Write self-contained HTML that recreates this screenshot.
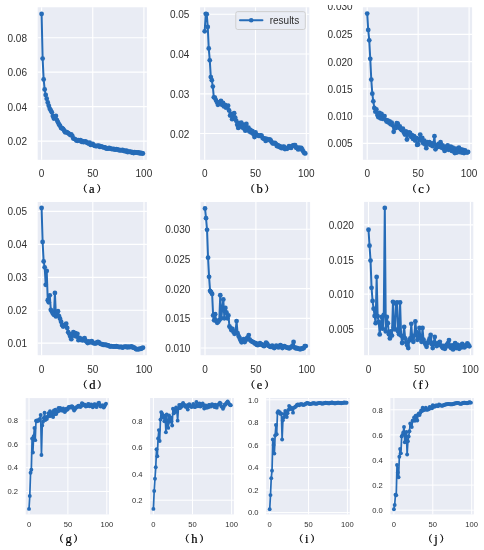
<!DOCTYPE html>
<html lang="en">
<head>
<meta charset="utf-8">
<title>results</title>
<style>
html,body{margin:0;padding:0;background:#ffffff;}
body{width:484px;height:550px;overflow:hidden;}
svg{display:block;}
.tk{font-family:"Liberation Sans",sans-serif;fill:#2e2e2e;}
.cap{fill:#000;stroke:#000;stroke-width:0.22px;}
.pr{font-family:"Noto Serif CJK SC",serif;font-size:9.5px;font-weight:bold;}
.lt{font-family:"Liberation Serif",serif;font-size:12.5px;}
</style>
</head>
<body>
<svg width="484" height="550" viewBox="0 0 484 550">
<rect width="484" height="550" fill="#ffffff"/>
<g>
<rect x="37.7" y="7.3" width="109.2" height="152.5" fill="#e9ecf4"/>
<path d="M41.6 7.3V159.8M92.75 7.3V159.8M143.9 7.3V159.8M37.7 37.7H146.9M37.7 72.1H146.9M37.7 106.6H146.9M37.7 141.1H146.9" stroke="#ffffff" stroke-width="1.15" fill="none"/>
<polyline points="41.6,13.92 42.62,58.55 43.65,79.4 44.67,89.4 45.69,94.91 46.72,98.71 47.74,102.5 48.76,105.77 49.78,108.7 50.81,110.42 51.83,112.32 52.85,116.11 53.88,118.52 54.9,116.97 55.92,115.94 56.95,120.08 57.97,122.14 58.99,124.5 60.01,125.76 61.04,127.99 62.06,128.18 63.08,128.88 64.11,130.42 65.13,132.33 66.15,131.97 67.18,132.48 68.2,133.17 69.22,133.91 70.24,135.08 71.27,134.38 72.29,135.85 73.31,138.43 74.34,138.86 75.36,139.35 76.38,140.48 77.41,140.77 78.43,140.24 79.45,140.66 80.47,140.07 81.5,141.79 82.52,141.27 83.54,142.18 84.57,141.7 85.59,141.41 86.61,142.5 87.64,143 88.66,143.54 89.68,142.77 90.7,144.89 91.73,144.37 92.75,143.97 93.77,145.28 94.8,145.8 95.82,146.1 96.84,146.01 97.87,145.93 98.89,145.6 99.91,146.94 100.93,146.47 101.96,146.61 102.98,147.29 104,147.3 105.03,147.42 106.05,148.44 107.07,148.64 108.09,148.59 109.12,148.01 110.14,148.51 111.16,148.8 112.19,149.15 113.21,148.89 114.23,149.27 115.26,149.69 116.28,149.08 117.3,149.72 118.33,149.58 119.35,150.45 120.37,150.12 121.39,150.37 122.42,150.02 123.44,150.75 124.46,150.58 125.49,151.41 126.51,150.57 127.53,151.99 128.56,151.73 129.58,151.78 130.6,151.56 131.62,152.56 132.65,152.23 133.67,153 134.69,152.27 135.72,152.65 136.74,152.41 137.76,152.79 138.79,152.51 139.81,153.39 140.83,153 141.85,153.26 142.88,153.51" fill="none" stroke="#266cb8" stroke-width="2.0" stroke-linejoin="round" stroke-linecap="round"/>
<g fill="#266cb8"><circle cx="41.6" cy="13.92" r="2.4"/><circle cx="42.62" cy="58.55" r="2.4"/><circle cx="43.65" cy="79.4" r="2.4"/><circle cx="44.67" cy="89.4" r="2.4"/><circle cx="45.69" cy="94.91" r="2.4"/><circle cx="46.72" cy="98.71" r="2.4"/><circle cx="47.74" cy="102.5" r="2.4"/><circle cx="48.76" cy="105.77" r="2.4"/><circle cx="49.78" cy="108.7" r="2.4"/><circle cx="50.81" cy="110.42" r="2.4"/><circle cx="51.83" cy="112.32" r="2.4"/><circle cx="52.85" cy="116.11" r="2.4"/><circle cx="53.88" cy="118.52" r="2.4"/><circle cx="54.9" cy="116.97" r="2.4"/><circle cx="55.92" cy="115.94" r="2.4"/><circle cx="56.95" cy="120.08" r="2.4"/><circle cx="57.97" cy="122.14" r="2.4"/><circle cx="58.99" cy="124.5" r="2.4"/><circle cx="60.01" cy="125.76" r="2.4"/><circle cx="61.04" cy="127.99" r="2.4"/><circle cx="62.06" cy="128.18" r="2.4"/><circle cx="63.08" cy="128.88" r="2.4"/><circle cx="64.11" cy="130.42" r="2.4"/><circle cx="65.13" cy="132.33" r="2.4"/><circle cx="66.15" cy="131.97" r="2.4"/><circle cx="67.18" cy="132.48" r="2.4"/><circle cx="68.2" cy="133.17" r="2.4"/><circle cx="69.22" cy="133.91" r="2.4"/><circle cx="70.24" cy="135.08" r="2.4"/><circle cx="71.27" cy="134.38" r="2.4"/><circle cx="72.29" cy="135.85" r="2.4"/><circle cx="73.31" cy="138.43" r="2.4"/><circle cx="74.34" cy="138.86" r="2.4"/><circle cx="75.36" cy="139.35" r="2.4"/><circle cx="76.38" cy="140.48" r="2.4"/><circle cx="77.41" cy="140.77" r="2.4"/><circle cx="78.43" cy="140.24" r="2.4"/><circle cx="79.45" cy="140.66" r="2.4"/><circle cx="80.47" cy="140.07" r="2.4"/><circle cx="81.5" cy="141.79" r="2.4"/><circle cx="82.52" cy="141.27" r="2.4"/><circle cx="83.54" cy="142.18" r="2.4"/><circle cx="84.57" cy="141.7" r="2.4"/><circle cx="85.59" cy="141.41" r="2.4"/><circle cx="86.61" cy="142.5" r="2.4"/><circle cx="87.64" cy="143" r="2.4"/><circle cx="88.66" cy="143.54" r="2.4"/><circle cx="89.68" cy="142.77" r="2.4"/><circle cx="90.7" cy="144.89" r="2.4"/><circle cx="91.73" cy="144.37" r="2.4"/><circle cx="92.75" cy="143.97" r="2.4"/><circle cx="93.77" cy="145.28" r="2.4"/><circle cx="94.8" cy="145.8" r="2.4"/><circle cx="95.82" cy="146.1" r="2.4"/><circle cx="96.84" cy="146.01" r="2.4"/><circle cx="97.87" cy="145.93" r="2.4"/><circle cx="98.89" cy="145.6" r="2.4"/><circle cx="99.91" cy="146.94" r="2.4"/><circle cx="100.93" cy="146.47" r="2.4"/><circle cx="101.96" cy="146.61" r="2.4"/><circle cx="102.98" cy="147.29" r="2.4"/><circle cx="104" cy="147.3" r="2.4"/><circle cx="105.03" cy="147.42" r="2.4"/><circle cx="106.05" cy="148.44" r="2.4"/><circle cx="107.07" cy="148.64" r="2.4"/><circle cx="108.09" cy="148.59" r="2.4"/><circle cx="109.12" cy="148.01" r="2.4"/><circle cx="110.14" cy="148.51" r="2.4"/><circle cx="111.16" cy="148.8" r="2.4"/><circle cx="112.19" cy="149.15" r="2.4"/><circle cx="113.21" cy="148.89" r="2.4"/><circle cx="114.23" cy="149.27" r="2.4"/><circle cx="115.26" cy="149.69" r="2.4"/><circle cx="116.28" cy="149.08" r="2.4"/><circle cx="117.3" cy="149.72" r="2.4"/><circle cx="118.33" cy="149.58" r="2.4"/><circle cx="119.35" cy="150.45" r="2.4"/><circle cx="120.37" cy="150.12" r="2.4"/><circle cx="121.39" cy="150.37" r="2.4"/><circle cx="122.42" cy="150.02" r="2.4"/><circle cx="123.44" cy="150.75" r="2.4"/><circle cx="124.46" cy="150.58" r="2.4"/><circle cx="125.49" cy="151.41" r="2.4"/><circle cx="126.51" cy="150.57" r="2.4"/><circle cx="127.53" cy="151.99" r="2.4"/><circle cx="128.56" cy="151.73" r="2.4"/><circle cx="129.58" cy="151.78" r="2.4"/><circle cx="130.6" cy="151.56" r="2.4"/><circle cx="131.62" cy="152.56" r="2.4"/><circle cx="132.65" cy="152.23" r="2.4"/><circle cx="133.67" cy="153" r="2.4"/><circle cx="134.69" cy="152.27" r="2.4"/><circle cx="135.72" cy="152.65" r="2.4"/><circle cx="136.74" cy="152.41" r="2.4"/><circle cx="137.76" cy="152.79" r="2.4"/><circle cx="138.79" cy="152.51" r="2.4"/><circle cx="139.81" cy="153.39" r="2.4"/><circle cx="140.83" cy="153" r="2.4"/><circle cx="141.85" cy="153.26" r="2.4"/><circle cx="142.88" cy="153.51" r="2.4"/></g>
<g class="tk" font-size="10">
<text x="27" y="41.88" text-anchor="end">0.08</text>
<text x="27" y="76.28" text-anchor="end">0.06</text>
<text x="27" y="110.78" text-anchor="end">0.04</text>
<text x="27" y="145.28" text-anchor="end">0.02</text>
<text x="41.6" y="176.88" text-anchor="middle">0</text>
<text x="92.75" y="176.88" text-anchor="middle">50</text>
<text x="143.9" y="176.88" text-anchor="middle">100</text>
</g>
<text class="cap" x="92" y="192.6" text-anchor="middle"><tspan class="pr" dy="-0.3">（</tspan><tspan class="lt" dx="1.8" dy="0.3">a</tspan><tspan class="pr" dx="2" dy="-0.3">）</tspan></text>
</g>
<g>
<rect x="200.1" y="7.3" width="109.2" height="152.5" fill="#e9ecf4"/>
<path d="M204.7 7.3V159.8M255.5 7.3V159.8M306.3 7.3V159.8M200.1 14.2H309.3M200.1 54H309.3M200.1 93.8H309.3M200.1 133.5H309.3" stroke="#ffffff" stroke-width="1.15" fill="none"/>
<polyline points="204.7,31.3 205.72,13.8 206.73,14.2 207.75,26.93 208.76,48.4 209.78,60.33 210.8,77.03 211.81,80.21 212.83,86.58 213.84,97.31 214.86,97.71 215.88,100.1 216.89,102.08 217.91,104.87 218.92,102.48 219.94,103.68 220.96,100.89 221.97,104.87 222.99,102.88 224,106.46 225.02,104.87 226.04,107.65 227.05,106.46 228.07,105.66 229.08,110.44 230.1,115.61 231.12,114.01 232.13,119.18 233.15,116.4 234.16,113.22 235.18,117.59 236.2,120.77 237.21,124.75 238.23,127.93 239.24,123.16 240.26,126.34 241.28,122.76 242.29,127.53 243.31,124.75 244.32,128.73 245.34,130.72 246.36,123.96 247.37,129.92 248.39,127.53 249.4,131.51 250.42,129.92 251.44,132.7 252.45,131.11 253.47,134.3 254.48,137.08 255.5,132.31 256.52,135.09 257.53,135.05 258.55,135.79 259.56,135.89 260.58,135.28 261.6,135.59 262.61,138.07 263.63,138.67 264.64,138.36 265.66,140.89 266.68,138.82 267.69,139.86 268.71,139.93 269.72,139.28 270.74,140.5 271.76,142.25 272.77,143.4 273.79,143.44 274.8,142.85 275.82,143.84 276.84,146.07 277.85,145.16 278.87,146.75 279.88,146.23 280.9,147.76 281.92,148.22 282.93,147.02 283.95,146.54 284.96,149.02 285.98,148.21 287,148.74 288.01,147.97 289.03,146.1 290.04,147.02 291.06,147.92 292.08,146.2 293.09,145.36 294.11,145.03 295.12,145.15 296.14,147.82 297.16,147.58 298.17,149.41 299.19,147.71 300.2,149.06 301.22,147.82 302.24,149.41 303.25,151.39 304.27,152.99 305.28,153.38" fill="none" stroke="#266cb8" stroke-width="2.0" stroke-linejoin="round" stroke-linecap="round"/>
<g fill="#266cb8"><circle cx="204.7" cy="31.3" r="2.4"/><circle cx="205.72" cy="13.8" r="2.4"/><circle cx="206.73" cy="14.2" r="2.4"/><circle cx="207.75" cy="26.93" r="2.4"/><circle cx="208.76" cy="48.4" r="2.4"/><circle cx="209.78" cy="60.33" r="2.4"/><circle cx="210.8" cy="77.03" r="2.4"/><circle cx="211.81" cy="80.21" r="2.4"/><circle cx="212.83" cy="86.58" r="2.4"/><circle cx="213.84" cy="97.31" r="2.4"/><circle cx="214.86" cy="97.71" r="2.4"/><circle cx="215.88" cy="100.1" r="2.4"/><circle cx="216.89" cy="102.08" r="2.4"/><circle cx="217.91" cy="104.87" r="2.4"/><circle cx="218.92" cy="102.48" r="2.4"/><circle cx="219.94" cy="103.68" r="2.4"/><circle cx="220.96" cy="100.89" r="2.4"/><circle cx="221.97" cy="104.87" r="2.4"/><circle cx="222.99" cy="102.88" r="2.4"/><circle cx="224" cy="106.46" r="2.4"/><circle cx="225.02" cy="104.87" r="2.4"/><circle cx="226.04" cy="107.65" r="2.4"/><circle cx="227.05" cy="106.46" r="2.4"/><circle cx="228.07" cy="105.66" r="2.4"/><circle cx="229.08" cy="110.44" r="2.4"/><circle cx="230.1" cy="115.61" r="2.4"/><circle cx="231.12" cy="114.01" r="2.4"/><circle cx="232.13" cy="119.18" r="2.4"/><circle cx="233.15" cy="116.4" r="2.4"/><circle cx="234.16" cy="113.22" r="2.4"/><circle cx="235.18" cy="117.59" r="2.4"/><circle cx="236.2" cy="120.77" r="2.4"/><circle cx="237.21" cy="124.75" r="2.4"/><circle cx="238.23" cy="127.93" r="2.4"/><circle cx="239.24" cy="123.16" r="2.4"/><circle cx="240.26" cy="126.34" r="2.4"/><circle cx="241.28" cy="122.76" r="2.4"/><circle cx="242.29" cy="127.53" r="2.4"/><circle cx="243.31" cy="124.75" r="2.4"/><circle cx="244.32" cy="128.73" r="2.4"/><circle cx="245.34" cy="130.72" r="2.4"/><circle cx="246.36" cy="123.96" r="2.4"/><circle cx="247.37" cy="129.92" r="2.4"/><circle cx="248.39" cy="127.53" r="2.4"/><circle cx="249.4" cy="131.51" r="2.4"/><circle cx="250.42" cy="129.92" r="2.4"/><circle cx="251.44" cy="132.7" r="2.4"/><circle cx="252.45" cy="131.11" r="2.4"/><circle cx="253.47" cy="134.3" r="2.4"/><circle cx="254.48" cy="137.08" r="2.4"/><circle cx="255.5" cy="132.31" r="2.4"/><circle cx="256.52" cy="135.09" r="2.4"/><circle cx="257.53" cy="135.05" r="2.4"/><circle cx="258.55" cy="135.79" r="2.4"/><circle cx="259.56" cy="135.89" r="2.4"/><circle cx="260.58" cy="135.28" r="2.4"/><circle cx="261.6" cy="135.59" r="2.4"/><circle cx="262.61" cy="138.07" r="2.4"/><circle cx="263.63" cy="138.67" r="2.4"/><circle cx="264.64" cy="138.36" r="2.4"/><circle cx="265.66" cy="140.89" r="2.4"/><circle cx="266.68" cy="138.82" r="2.4"/><circle cx="267.69" cy="139.86" r="2.4"/><circle cx="268.71" cy="139.93" r="2.4"/><circle cx="269.72" cy="139.28" r="2.4"/><circle cx="270.74" cy="140.5" r="2.4"/><circle cx="271.76" cy="142.25" r="2.4"/><circle cx="272.77" cy="143.4" r="2.4"/><circle cx="273.79" cy="143.44" r="2.4"/><circle cx="274.8" cy="142.85" r="2.4"/><circle cx="275.82" cy="143.84" r="2.4"/><circle cx="276.84" cy="146.07" r="2.4"/><circle cx="277.85" cy="145.16" r="2.4"/><circle cx="278.87" cy="146.75" r="2.4"/><circle cx="279.88" cy="146.23" r="2.4"/><circle cx="280.9" cy="147.76" r="2.4"/><circle cx="281.92" cy="148.22" r="2.4"/><circle cx="282.93" cy="147.02" r="2.4"/><circle cx="283.95" cy="146.54" r="2.4"/><circle cx="284.96" cy="149.02" r="2.4"/><circle cx="285.98" cy="148.21" r="2.4"/><circle cx="287" cy="148.74" r="2.4"/><circle cx="288.01" cy="147.97" r="2.4"/><circle cx="289.03" cy="146.1" r="2.4"/><circle cx="290.04" cy="147.02" r="2.4"/><circle cx="291.06" cy="147.92" r="2.4"/><circle cx="292.08" cy="146.2" r="2.4"/><circle cx="293.09" cy="145.36" r="2.4"/><circle cx="294.11" cy="145.03" r="2.4"/><circle cx="295.12" cy="145.15" r="2.4"/><circle cx="296.14" cy="147.82" r="2.4"/><circle cx="297.16" cy="147.58" r="2.4"/><circle cx="298.17" cy="149.41" r="2.4"/><circle cx="299.19" cy="147.71" r="2.4"/><circle cx="300.2" cy="149.06" r="2.4"/><circle cx="301.22" cy="147.82" r="2.4"/><circle cx="302.24" cy="149.41" r="2.4"/><circle cx="303.25" cy="151.39" r="2.4"/><circle cx="304.27" cy="152.99" r="2.4"/><circle cx="305.28" cy="153.38" r="2.4"/></g>
<g class="tk" font-size="10">
<text x="189.4" y="18.38" text-anchor="end">0.05</text>
<text x="189.4" y="58.18" text-anchor="end">0.04</text>
<text x="189.4" y="97.98" text-anchor="end">0.03</text>
<text x="189.4" y="137.68" text-anchor="end">0.02</text>
<text x="204.7" y="176.88" text-anchor="middle">0</text>
<text x="255.5" y="176.88" text-anchor="middle">50</text>
<text x="306.3" y="176.88" text-anchor="middle">100</text>
</g>
<text class="cap" x="259.7" y="192.6" text-anchor="middle"><tspan class="pr" dy="-0.3">（</tspan><tspan class="lt" dx="1.8" dy="0.3">b</tspan><tspan class="pr" dx="2" dy="-0.3">）</tspan></text>
<rect x="235.8" y="11.6" width="69.5" height="17.9" rx="2" ry="2" fill="#e9ecf4" fill-opacity="0.8" stroke="#cccccc" stroke-width="0.9"/>
<path d="M240 20.2H262.4" stroke="#266cb8" stroke-width="2.1" stroke-linecap="round"/>
<circle cx="251.2" cy="20.2" r="2.3" fill="#266cb8"/>
<text class="tk" x="269.7" y="23.8" font-size="10">results</text>
</g>
<g>
<rect x="362.9" y="7.3" width="109.2" height="152.5" fill="#e9ecf4"/>
<path d="M367.2 7.3V159.8M418.15 7.3V159.8M469.1 7.3V159.8M362.9 34.3H472.1M362.9 61.55H472.1M362.9 88.8H472.1M362.9 116.05H472.1M362.9 143.3H472.1" stroke="#ffffff" stroke-width="1.15" fill="none"/>
<polyline points="367.2,13.59 368.22,29.94 369.24,40.29 370.26,58.82 371.28,79.53 372.3,93.7 373.31,101.34 374.33,107.88 375.35,111.69 376.37,109.51 377.39,114.96 378.41,117.14 379.43,112.78 380.45,118.23 381.47,113.87 382.49,118.78 383.5,116.05 384.52,116.05 385.54,119.86 386.56,121.5 387.58,120.41 388.6,122.59 389.62,121.5 390.64,124.22 391.66,122.59 392.68,125.31 393.69,131.85 394.71,126.95 395.73,128.04 396.75,123.14 397.77,123.68 398.79,127.5 399.81,126.41 400.83,129.13 401.85,130.22 402.87,128.59 403.88,132.4 404.9,134.58 405.92,131.31 406.94,139.49 407.96,134.58 408.98,132.4 410,132.94 411.02,136.76 412.04,135.13 413.06,138.94 414.07,136.22 415.09,140.58 416.11,137.85 417.13,144.94 418.15,144.39 419.17,138.94 420.19,134.58 421.21,140.58 422.23,137.85 423.25,143.3 424.26,140.58 425.28,144.39 426.3,148.21 427.32,142.21 428.34,143.85 429.36,142.21 430.38,144.94 431.4,143.3 432.42,146.03 433.44,143.3 434.45,136.22 435.47,149.3 436.49,145.48 437.51,147.12 438.53,143.85 439.55,146.57 440.57,142.21 441.59,147.66 442.61,145.48 443.62,148.75 444.64,150.93 445.66,146.57 446.68,149.3 447.7,145.48 448.72,149.84 449.74,148.21 450.76,146.57 451.78,150.93 452.8,147.66 453.82,151.48 454.83,153.11 455.85,148.75 456.87,152.57 457.89,149.84 458.91,147.66 459.93,152.02 460.95,149.3 461.97,152.57 462.99,149.84 464,153.11 465.02,150.39 466.04,152.02 467.06,152.57 468.08,152.02" fill="none" stroke="#266cb8" stroke-width="2.0" stroke-linejoin="round" stroke-linecap="round"/>
<g fill="#266cb8"><circle cx="367.2" cy="13.59" r="2.4"/><circle cx="368.22" cy="29.94" r="2.4"/><circle cx="369.24" cy="40.29" r="2.4"/><circle cx="370.26" cy="58.82" r="2.4"/><circle cx="371.28" cy="79.53" r="2.4"/><circle cx="372.3" cy="93.7" r="2.4"/><circle cx="373.31" cy="101.34" r="2.4"/><circle cx="374.33" cy="107.88" r="2.4"/><circle cx="375.35" cy="111.69" r="2.4"/><circle cx="376.37" cy="109.51" r="2.4"/><circle cx="377.39" cy="114.96" r="2.4"/><circle cx="378.41" cy="117.14" r="2.4"/><circle cx="379.43" cy="112.78" r="2.4"/><circle cx="380.45" cy="118.23" r="2.4"/><circle cx="381.47" cy="113.87" r="2.4"/><circle cx="382.49" cy="118.78" r="2.4"/><circle cx="383.5" cy="116.05" r="2.4"/><circle cx="384.52" cy="116.05" r="2.4"/><circle cx="385.54" cy="119.86" r="2.4"/><circle cx="386.56" cy="121.5" r="2.4"/><circle cx="387.58" cy="120.41" r="2.4"/><circle cx="388.6" cy="122.59" r="2.4"/><circle cx="389.62" cy="121.5" r="2.4"/><circle cx="390.64" cy="124.22" r="2.4"/><circle cx="391.66" cy="122.59" r="2.4"/><circle cx="392.68" cy="125.31" r="2.4"/><circle cx="393.69" cy="131.85" r="2.4"/><circle cx="394.71" cy="126.95" r="2.4"/><circle cx="395.73" cy="128.04" r="2.4"/><circle cx="396.75" cy="123.14" r="2.4"/><circle cx="397.77" cy="123.68" r="2.4"/><circle cx="398.79" cy="127.5" r="2.4"/><circle cx="399.81" cy="126.41" r="2.4"/><circle cx="400.83" cy="129.13" r="2.4"/><circle cx="401.85" cy="130.22" r="2.4"/><circle cx="402.87" cy="128.59" r="2.4"/><circle cx="403.88" cy="132.4" r="2.4"/><circle cx="404.9" cy="134.58" r="2.4"/><circle cx="405.92" cy="131.31" r="2.4"/><circle cx="406.94" cy="139.49" r="2.4"/><circle cx="407.96" cy="134.58" r="2.4"/><circle cx="408.98" cy="132.4" r="2.4"/><circle cx="410" cy="132.94" r="2.4"/><circle cx="411.02" cy="136.76" r="2.4"/><circle cx="412.04" cy="135.13" r="2.4"/><circle cx="413.06" cy="138.94" r="2.4"/><circle cx="414.07" cy="136.22" r="2.4"/><circle cx="415.09" cy="140.58" r="2.4"/><circle cx="416.11" cy="137.85" r="2.4"/><circle cx="417.13" cy="144.94" r="2.4"/><circle cx="418.15" cy="144.39" r="2.4"/><circle cx="419.17" cy="138.94" r="2.4"/><circle cx="420.19" cy="134.58" r="2.4"/><circle cx="421.21" cy="140.58" r="2.4"/><circle cx="422.23" cy="137.85" r="2.4"/><circle cx="423.25" cy="143.3" r="2.4"/><circle cx="424.26" cy="140.58" r="2.4"/><circle cx="425.28" cy="144.39" r="2.4"/><circle cx="426.3" cy="148.21" r="2.4"/><circle cx="427.32" cy="142.21" r="2.4"/><circle cx="428.34" cy="143.85" r="2.4"/><circle cx="429.36" cy="142.21" r="2.4"/><circle cx="430.38" cy="144.94" r="2.4"/><circle cx="431.4" cy="143.3" r="2.4"/><circle cx="432.42" cy="146.03" r="2.4"/><circle cx="433.44" cy="143.3" r="2.4"/><circle cx="434.45" cy="136.22" r="2.4"/><circle cx="435.47" cy="149.3" r="2.4"/><circle cx="436.49" cy="145.48" r="2.4"/><circle cx="437.51" cy="147.12" r="2.4"/><circle cx="438.53" cy="143.85" r="2.4"/><circle cx="439.55" cy="146.57" r="2.4"/><circle cx="440.57" cy="142.21" r="2.4"/><circle cx="441.59" cy="147.66" r="2.4"/><circle cx="442.61" cy="145.48" r="2.4"/><circle cx="443.62" cy="148.75" r="2.4"/><circle cx="444.64" cy="150.93" r="2.4"/><circle cx="445.66" cy="146.57" r="2.4"/><circle cx="446.68" cy="149.3" r="2.4"/><circle cx="447.7" cy="145.48" r="2.4"/><circle cx="448.72" cy="149.84" r="2.4"/><circle cx="449.74" cy="148.21" r="2.4"/><circle cx="450.76" cy="146.57" r="2.4"/><circle cx="451.78" cy="150.93" r="2.4"/><circle cx="452.8" cy="147.66" r="2.4"/><circle cx="453.82" cy="151.48" r="2.4"/><circle cx="454.83" cy="153.11" r="2.4"/><circle cx="455.85" cy="148.75" r="2.4"/><circle cx="456.87" cy="152.57" r="2.4"/><circle cx="457.89" cy="149.84" r="2.4"/><circle cx="458.91" cy="147.66" r="2.4"/><circle cx="459.93" cy="152.02" r="2.4"/><circle cx="460.95" cy="149.3" r="2.4"/><circle cx="461.97" cy="152.57" r="2.4"/><circle cx="462.99" cy="149.84" r="2.4"/><circle cx="464" cy="153.11" r="2.4"/><circle cx="465.02" cy="150.39" r="2.4"/><circle cx="466.04" cy="152.02" r="2.4"/><circle cx="467.06" cy="152.57" r="2.4"/><circle cx="468.08" cy="152.02" r="2.4"/></g>
<g class="tk" font-size="10">
<clipPath id="clipc"><rect x="320" y="4.9" width="40" height="12"/></clipPath>
<text x="352.6" y="9.88" text-anchor="end" clip-path="url(#clipc)">0.030</text>
<text x="352.6" y="38.48" text-anchor="end">0.025</text>
<text x="352.6" y="65.73" text-anchor="end">0.020</text>
<text x="352.6" y="92.98" text-anchor="end">0.015</text>
<text x="352.6" y="120.23" text-anchor="end">0.010</text>
<text x="352.6" y="147.48" text-anchor="end">0.005</text>
<text x="367.2" y="176.88" text-anchor="middle">0</text>
<text x="418.15" y="176.88" text-anchor="middle">50</text>
<text x="469.1" y="176.88" text-anchor="middle">100</text>
</g>
<text class="cap" x="421.25" y="192.6" text-anchor="middle"><tspan class="pr" dy="-0.3">（</tspan><tspan class="lt" dx="1.8" dy="0.3">c</tspan><tspan class="pr" dx="2" dy="-0.3">）</tspan></text>
</g>
<g>
<rect x="37.7" y="202" width="109.2" height="153.2" fill="#e9ecf4"/>
<path d="M41.6 202V355.2M92.8 202V355.2M144 202V355.2M37.7 211.3H146.9M37.7 244.3H146.9M37.7 277.3H146.9M37.7 310.2H146.9M37.7 343.1H146.9" stroke="#ffffff" stroke-width="1.15" fill="none"/>
<polyline points="41.6,208.01 42.62,241.94 43.65,261.38 44.67,267.31 45.7,284.78 46.72,270.94 47.74,300.27 48.77,302.24 49.79,295.32 50.82,309.82 51.84,311.47 52.86,313.45 53.89,314.76 54.91,293.02 55.94,316.41 56.96,314.1 57.98,311.14 59.01,316.08 60.03,318.72 61.06,321.68 62.08,324.98 63.1,326.62 64.13,325.97 65.15,324.65 66.18,323.66 67.2,327.94 68.22,332.23 69.25,333.87 70.27,336.51 71.3,339.15 72.32,334.53 73.34,332.23 74.37,335.85 75.39,333.22 76.42,336.51 77.44,333.87 78.46,340.13 79.49,337.83 80.51,339.81 81.54,338.82 82.56,340.46 83.58,339.15 84.61,338.16 85.63,340.79 86.66,341.78 87.68,343.1 88.7,341.45 89.73,342.44 90.75,341.78 91.78,341.12 92.8,342.77 93.82,343.13 94.85,343.44 95.87,343.43 96.9,342.47 97.92,342.01 98.94,342.44 99.97,343.57 100.99,344.07 102.02,344.09 103.04,344.73 104.06,344.95 105.09,344.75 106.11,344.99 107.14,345.05 108.16,345.41 109.18,345.99 110.21,346.59 111.23,346.07 112.26,346.35 113.28,346.59 114.3,346.46 115.33,346.72 116.35,346.14 117.38,346.61 118.4,346.95 119.42,347.05 120.45,346.88 121.47,346.8 122.5,347.7 123.52,347.05 124.54,346.56 125.57,346.82 126.59,346.76 127.62,347.38 128.64,346.71 129.66,347.05 130.69,346.79 131.71,346.39 132.74,347.52 133.76,347.3 134.78,348.04 135.81,348.98 136.83,349.29 137.86,349.03 138.88,349.26 139.9,348.7 140.93,348.84 141.95,348.27 142.98,347.71" fill="none" stroke="#266cb8" stroke-width="2.0" stroke-linejoin="round" stroke-linecap="round"/>
<g fill="#266cb8"><circle cx="41.6" cy="208.01" r="2.4"/><circle cx="42.62" cy="241.94" r="2.4"/><circle cx="43.65" cy="261.38" r="2.4"/><circle cx="44.67" cy="267.31" r="2.4"/><circle cx="45.7" cy="284.78" r="2.4"/><circle cx="46.72" cy="270.94" r="2.4"/><circle cx="47.74" cy="300.27" r="2.4"/><circle cx="48.77" cy="302.24" r="2.4"/><circle cx="49.79" cy="295.32" r="2.4"/><circle cx="50.82" cy="309.82" r="2.4"/><circle cx="51.84" cy="311.47" r="2.4"/><circle cx="52.86" cy="313.45" r="2.4"/><circle cx="53.89" cy="314.76" r="2.4"/><circle cx="54.91" cy="293.02" r="2.4"/><circle cx="55.94" cy="316.41" r="2.4"/><circle cx="56.96" cy="314.1" r="2.4"/><circle cx="57.98" cy="311.14" r="2.4"/><circle cx="59.01" cy="316.08" r="2.4"/><circle cx="60.03" cy="318.72" r="2.4"/><circle cx="61.06" cy="321.68" r="2.4"/><circle cx="62.08" cy="324.98" r="2.4"/><circle cx="63.1" cy="326.62" r="2.4"/><circle cx="64.13" cy="325.97" r="2.4"/><circle cx="65.15" cy="324.65" r="2.4"/><circle cx="66.18" cy="323.66" r="2.4"/><circle cx="67.2" cy="327.94" r="2.4"/><circle cx="68.22" cy="332.23" r="2.4"/><circle cx="69.25" cy="333.87" r="2.4"/><circle cx="70.27" cy="336.51" r="2.4"/><circle cx="71.3" cy="339.15" r="2.4"/><circle cx="72.32" cy="334.53" r="2.4"/><circle cx="73.34" cy="332.23" r="2.4"/><circle cx="74.37" cy="335.85" r="2.4"/><circle cx="75.39" cy="333.22" r="2.4"/><circle cx="76.42" cy="336.51" r="2.4"/><circle cx="77.44" cy="333.87" r="2.4"/><circle cx="78.46" cy="340.13" r="2.4"/><circle cx="79.49" cy="337.83" r="2.4"/><circle cx="80.51" cy="339.81" r="2.4"/><circle cx="81.54" cy="338.82" r="2.4"/><circle cx="82.56" cy="340.46" r="2.4"/><circle cx="83.58" cy="339.15" r="2.4"/><circle cx="84.61" cy="338.16" r="2.4"/><circle cx="85.63" cy="340.79" r="2.4"/><circle cx="86.66" cy="341.78" r="2.4"/><circle cx="87.68" cy="343.1" r="2.4"/><circle cx="88.7" cy="341.45" r="2.4"/><circle cx="89.73" cy="342.44" r="2.4"/><circle cx="90.75" cy="341.78" r="2.4"/><circle cx="91.78" cy="341.12" r="2.4"/><circle cx="92.8" cy="342.77" r="2.4"/><circle cx="93.82" cy="343.13" r="2.4"/><circle cx="94.85" cy="343.44" r="2.4"/><circle cx="95.87" cy="343.43" r="2.4"/><circle cx="96.9" cy="342.47" r="2.4"/><circle cx="97.92" cy="342.01" r="2.4"/><circle cx="98.94" cy="342.44" r="2.4"/><circle cx="99.97" cy="343.57" r="2.4"/><circle cx="100.99" cy="344.07" r="2.4"/><circle cx="102.02" cy="344.09" r="2.4"/><circle cx="103.04" cy="344.73" r="2.4"/><circle cx="104.06" cy="344.95" r="2.4"/><circle cx="105.09" cy="344.75" r="2.4"/><circle cx="106.11" cy="344.99" r="2.4"/><circle cx="107.14" cy="345.05" r="2.4"/><circle cx="108.16" cy="345.41" r="2.4"/><circle cx="109.18" cy="345.99" r="2.4"/><circle cx="110.21" cy="346.59" r="2.4"/><circle cx="111.23" cy="346.07" r="2.4"/><circle cx="112.26" cy="346.35" r="2.4"/><circle cx="113.28" cy="346.59" r="2.4"/><circle cx="114.3" cy="346.46" r="2.4"/><circle cx="115.33" cy="346.72" r="2.4"/><circle cx="116.35" cy="346.14" r="2.4"/><circle cx="117.38" cy="346.61" r="2.4"/><circle cx="118.4" cy="346.95" r="2.4"/><circle cx="119.42" cy="347.05" r="2.4"/><circle cx="120.45" cy="346.88" r="2.4"/><circle cx="121.47" cy="346.8" r="2.4"/><circle cx="122.5" cy="347.7" r="2.4"/><circle cx="123.52" cy="347.05" r="2.4"/><circle cx="124.54" cy="346.56" r="2.4"/><circle cx="125.57" cy="346.82" r="2.4"/><circle cx="126.59" cy="346.76" r="2.4"/><circle cx="127.62" cy="347.38" r="2.4"/><circle cx="128.64" cy="346.71" r="2.4"/><circle cx="129.66" cy="347.05" r="2.4"/><circle cx="130.69" cy="346.79" r="2.4"/><circle cx="131.71" cy="346.39" r="2.4"/><circle cx="132.74" cy="347.52" r="2.4"/><circle cx="133.76" cy="347.3" r="2.4"/><circle cx="134.78" cy="348.04" r="2.4"/><circle cx="135.81" cy="348.98" r="2.4"/><circle cx="136.83" cy="349.29" r="2.4"/><circle cx="137.86" cy="349.03" r="2.4"/><circle cx="138.88" cy="349.26" r="2.4"/><circle cx="139.9" cy="348.7" r="2.4"/><circle cx="140.93" cy="348.84" r="2.4"/><circle cx="141.95" cy="348.27" r="2.4"/><circle cx="142.98" cy="347.71" r="2.4"/></g>
<g class="tk" font-size="10">
<text x="27" y="215.48" text-anchor="end">0.05</text>
<text x="27" y="248.48" text-anchor="end">0.04</text>
<text x="27" y="281.48" text-anchor="end">0.03</text>
<text x="27" y="314.38" text-anchor="end">0.02</text>
<text x="27" y="347.28" text-anchor="end">0.01</text>
<text x="41.6" y="372.78" text-anchor="middle">0</text>
<text x="92.8" y="372.78" text-anchor="middle">50</text>
<text x="144" y="372.78" text-anchor="middle">100</text>
</g>
<text class="cap" x="92.35" y="388.6" text-anchor="middle"><tspan class="pr" dy="-0.3">（</tspan><tspan class="lt" dx="1.8" dy="0.3">d</tspan><tspan class="pr" dx="2" dy="-0.3">）</tspan></text>
</g>
<g>
<rect x="200.6" y="202" width="109.5" height="153.2" fill="#e9ecf4"/>
<path d="M205 202V355.2M255.9 202V355.2M306.8 202V355.2M200.6 229.2H310.1M200.6 258.9H310.1M200.6 288.6H310.1M200.6 318.3H310.1M200.6 348H310.1" stroke="#ffffff" stroke-width="1.15" fill="none"/>
<polyline points="205,208.41 206.02,218.21 207.04,229.79 208.05,257.71 209.07,276.84 210.09,290.86 211.11,292.16 212.13,293.95 213.14,315.45 214.16,320.26 215.18,314.14 216.2,320.68 217.22,322.75 218.23,321.86 219.25,320.26 220.27,295.25 221.29,318.3 222.31,308.8 223.32,299.47 224.34,318.3 225.36,308.02 226.38,312.36 227.4,318.3 228.41,315.45 229.43,326.44 230.45,327.8 231.47,330.18 232.49,328.99 233.5,331.96 234.52,333.86 235.54,331.37 236.56,321.09 237.58,333.15 238.59,336.12 239.61,337.9 240.63,340.28 241.65,342.36 242.67,340.87 243.68,339.09 244.7,342.06 245.72,340.28 246.74,338.5 247.76,337.31 248.77,335.05 249.79,339.68 250.81,340.87 251.83,341.47 252.85,342.06 253.86,342.36 254.88,343.5 255.9,343.25 256.92,344.9 257.94,345.03 258.95,344.67 259.97,343.25 260.99,344.45 262.01,344.44 263.03,345.53 264.04,346.22 265.06,345.15 266.08,342.65 267.1,343.57 268.12,345.62 269.13,346.05 270.15,346.81 271.17,346.73 272.19,345.62 273.21,347.17 274.22,348 275.24,347.03 276.26,345.62 277.28,346.71 278.3,347.41 279.31,346.77 280.33,345.03 281.35,346.01 282.37,348 283.39,346.4 284.4,346.22 285.42,346.86 286.44,347.41 287.46,347.73 288.48,348 289.49,348.3 290.51,347.41 291.53,346.81 292.55,345.62 293.57,341.88 294.58,347.41 295.6,348.27 296.62,348 297.64,348.52 298.66,348.59 299.67,349.22 300.69,349.19 301.71,348.43 302.73,348.59 303.75,348 304.76,346.22 305.78,346.1" fill="none" stroke="#266cb8" stroke-width="2.0" stroke-linejoin="round" stroke-linecap="round"/>
<g fill="#266cb8"><circle cx="205" cy="208.41" r="2.4"/><circle cx="206.02" cy="218.21" r="2.4"/><circle cx="207.04" cy="229.79" r="2.4"/><circle cx="208.05" cy="257.71" r="2.4"/><circle cx="209.07" cy="276.84" r="2.4"/><circle cx="210.09" cy="290.86" r="2.4"/><circle cx="211.11" cy="292.16" r="2.4"/><circle cx="212.13" cy="293.95" r="2.4"/><circle cx="213.14" cy="315.45" r="2.4"/><circle cx="214.16" cy="320.26" r="2.4"/><circle cx="215.18" cy="314.14" r="2.4"/><circle cx="216.2" cy="320.68" r="2.4"/><circle cx="217.22" cy="322.75" r="2.4"/><circle cx="218.23" cy="321.86" r="2.4"/><circle cx="219.25" cy="320.26" r="2.4"/><circle cx="220.27" cy="295.25" r="2.4"/><circle cx="221.29" cy="318.3" r="2.4"/><circle cx="222.31" cy="308.8" r="2.4"/><circle cx="223.32" cy="299.47" r="2.4"/><circle cx="224.34" cy="318.3" r="2.4"/><circle cx="225.36" cy="308.02" r="2.4"/><circle cx="226.38" cy="312.36" r="2.4"/><circle cx="227.4" cy="318.3" r="2.4"/><circle cx="228.41" cy="315.45" r="2.4"/><circle cx="229.43" cy="326.44" r="2.4"/><circle cx="230.45" cy="327.8" r="2.4"/><circle cx="231.47" cy="330.18" r="2.4"/><circle cx="232.49" cy="328.99" r="2.4"/><circle cx="233.5" cy="331.96" r="2.4"/><circle cx="234.52" cy="333.86" r="2.4"/><circle cx="235.54" cy="331.37" r="2.4"/><circle cx="236.56" cy="321.09" r="2.4"/><circle cx="237.58" cy="333.15" r="2.4"/><circle cx="238.59" cy="336.12" r="2.4"/><circle cx="239.61" cy="337.9" r="2.4"/><circle cx="240.63" cy="340.28" r="2.4"/><circle cx="241.65" cy="342.36" r="2.4"/><circle cx="242.67" cy="340.87" r="2.4"/><circle cx="243.68" cy="339.09" r="2.4"/><circle cx="244.7" cy="342.06" r="2.4"/><circle cx="245.72" cy="340.28" r="2.4"/><circle cx="246.74" cy="338.5" r="2.4"/><circle cx="247.76" cy="337.31" r="2.4"/><circle cx="248.77" cy="335.05" r="2.4"/><circle cx="249.79" cy="339.68" r="2.4"/><circle cx="250.81" cy="340.87" r="2.4"/><circle cx="251.83" cy="341.47" r="2.4"/><circle cx="252.85" cy="342.06" r="2.4"/><circle cx="253.86" cy="342.36" r="2.4"/><circle cx="254.88" cy="343.5" r="2.4"/><circle cx="255.9" cy="343.25" r="2.4"/><circle cx="256.92" cy="344.9" r="2.4"/><circle cx="257.94" cy="345.03" r="2.4"/><circle cx="258.95" cy="344.67" r="2.4"/><circle cx="259.97" cy="343.25" r="2.4"/><circle cx="260.99" cy="344.45" r="2.4"/><circle cx="262.01" cy="344.44" r="2.4"/><circle cx="263.03" cy="345.53" r="2.4"/><circle cx="264.04" cy="346.22" r="2.4"/><circle cx="265.06" cy="345.15" r="2.4"/><circle cx="266.08" cy="342.65" r="2.4"/><circle cx="267.1" cy="343.57" r="2.4"/><circle cx="268.12" cy="345.62" r="2.4"/><circle cx="269.13" cy="346.05" r="2.4"/><circle cx="270.15" cy="346.81" r="2.4"/><circle cx="271.17" cy="346.73" r="2.4"/><circle cx="272.19" cy="345.62" r="2.4"/><circle cx="273.21" cy="347.17" r="2.4"/><circle cx="274.22" cy="348" r="2.4"/><circle cx="275.24" cy="347.03" r="2.4"/><circle cx="276.26" cy="345.62" r="2.4"/><circle cx="277.28" cy="346.71" r="2.4"/><circle cx="278.3" cy="347.41" r="2.4"/><circle cx="279.31" cy="346.77" r="2.4"/><circle cx="280.33" cy="345.03" r="2.4"/><circle cx="281.35" cy="346.01" r="2.4"/><circle cx="282.37" cy="348" r="2.4"/><circle cx="283.39" cy="346.4" r="2.4"/><circle cx="284.4" cy="346.22" r="2.4"/><circle cx="285.42" cy="346.86" r="2.4"/><circle cx="286.44" cy="347.41" r="2.4"/><circle cx="287.46" cy="347.73" r="2.4"/><circle cx="288.48" cy="348" r="2.4"/><circle cx="289.49" cy="348.3" r="2.4"/><circle cx="290.51" cy="347.41" r="2.4"/><circle cx="291.53" cy="346.81" r="2.4"/><circle cx="292.55" cy="345.62" r="2.4"/><circle cx="293.57" cy="341.88" r="2.4"/><circle cx="294.58" cy="347.41" r="2.4"/><circle cx="295.6" cy="348.27" r="2.4"/><circle cx="296.62" cy="348" r="2.4"/><circle cx="297.64" cy="348.52" r="2.4"/><circle cx="298.66" cy="348.59" r="2.4"/><circle cx="299.67" cy="349.22" r="2.4"/><circle cx="300.69" cy="349.19" r="2.4"/><circle cx="301.71" cy="348.43" r="2.4"/><circle cx="302.73" cy="348.59" r="2.4"/><circle cx="303.75" cy="348" r="2.4"/><circle cx="304.76" cy="346.22" r="2.4"/><circle cx="305.78" cy="346.1" r="2.4"/></g>
<g class="tk" font-size="10">
<text x="190.3" y="233.38" text-anchor="end">0.030</text>
<text x="190.3" y="263.08" text-anchor="end">0.025</text>
<text x="190.3" y="292.78" text-anchor="end">0.020</text>
<text x="190.3" y="322.48" text-anchor="end">0.015</text>
<text x="190.3" y="352.18" text-anchor="end">0.010</text>
<text x="205" y="372.78" text-anchor="middle">0</text>
<text x="255.9" y="372.78" text-anchor="middle">50</text>
<text x="306.8" y="372.78" text-anchor="middle">100</text>
</g>
<text class="cap" x="259.75" y="388.6" text-anchor="middle"><tspan class="pr" dy="-0.3">（</tspan><tspan class="lt" dx="1.8" dy="0.3">e</tspan><tspan class="pr" dx="2" dy="-0.3">）</tspan></text>
</g>
<g>
<rect x="364.1" y="201.9" width="109.2" height="153.3" fill="#e9ecf4"/>
<path d="M368.5 201.9V355.2M419.45 201.9V355.2M470.4 201.9V355.2M364.1 224.9H473.3M364.1 259.5H473.3M364.1 294.1H473.3M364.1 328.7H473.3" stroke="#ffffff" stroke-width="1.15" fill="none"/>
<polyline points="368.5,229.74 369.52,245.66 370.54,260.61 371.56,287.87 372.58,301.02 373.6,308.63 374.61,315.9 375.63,323.16 376.65,276.94 377.67,316.24 378.69,321.78 379.71,334.44 380.73,325.24 381.75,316.94 382.77,328.7 383.78,314.86 384.8,207.95 385.82,331.47 386.84,316.94 387.86,323.16 388.88,334.24 389.9,338.39 390.92,331.47 391.94,335.62 392.96,301.85 393.98,327.32 394.99,329.39 396.01,303.79 397.03,302.4 398.05,331.47 399.07,334.24 400.09,302.4 401.11,335.62 402.13,343.02 403.15,337 404.16,326.9 405.18,338.39 406.2,342.54 407.22,345.31 408.24,348.08 409.26,340.46 410.28,338.39 411.3,323.86 412.32,339.08 413.34,341.85 414.36,335.62 415.37,321.5 416.39,332.16 417.41,339.77 418.43,337 419.45,328.01 420.47,338.39 421.49,341.85 422.51,328.01 423.53,339.77 424.54,342.54 425.56,344.62 426.58,346.83 427.6,343.23 428.62,341.16 429.64,338.39 430.66,334.93 431.68,343.92 432.7,348.08 433.72,342.54 434.74,337 435.75,344.62 436.77,346 437.79,343.23 438.81,344.62 439.83,341.85 440.85,345.31 441.87,346.69 442.89,348.08 443.91,346 444.92,348.77 445.94,346.69 446.96,344.62 447.98,343.23 449,340.12 450.02,346.69 451.04,348.08 452.06,345.31 453.08,349.46 454.1,346 455.12,343.23 456.13,348.08 457.15,344.62 458.17,347.38 459.19,348.77 460.21,345.31 461.23,347.38 462.25,343.92 463.27,346.69 464.29,347.38 465.3,345.31 466.32,346 467.34,343.51 468.36,344.62 469.38,346.28" fill="none" stroke="#266cb8" stroke-width="2.0" stroke-linejoin="round" stroke-linecap="round"/>
<g fill="#266cb8"><circle cx="368.5" cy="229.74" r="2.4"/><circle cx="369.52" cy="245.66" r="2.4"/><circle cx="370.54" cy="260.61" r="2.4"/><circle cx="371.56" cy="287.87" r="2.4"/><circle cx="372.58" cy="301.02" r="2.4"/><circle cx="373.6" cy="308.63" r="2.4"/><circle cx="374.61" cy="315.9" r="2.4"/><circle cx="375.63" cy="323.16" r="2.4"/><circle cx="376.65" cy="276.94" r="2.4"/><circle cx="377.67" cy="316.24" r="2.4"/><circle cx="378.69" cy="321.78" r="2.4"/><circle cx="379.71" cy="334.44" r="2.4"/><circle cx="380.73" cy="325.24" r="2.4"/><circle cx="381.75" cy="316.94" r="2.4"/><circle cx="382.77" cy="328.7" r="2.4"/><circle cx="383.78" cy="314.86" r="2.4"/><circle cx="384.8" cy="207.95" r="2.4"/><circle cx="385.82" cy="331.47" r="2.4"/><circle cx="386.84" cy="316.94" r="2.4"/><circle cx="387.86" cy="323.16" r="2.4"/><circle cx="388.88" cy="334.24" r="2.4"/><circle cx="389.9" cy="338.39" r="2.4"/><circle cx="390.92" cy="331.47" r="2.4"/><circle cx="391.94" cy="335.62" r="2.4"/><circle cx="392.96" cy="301.85" r="2.4"/><circle cx="393.98" cy="327.32" r="2.4"/><circle cx="394.99" cy="329.39" r="2.4"/><circle cx="396.01" cy="303.79" r="2.4"/><circle cx="397.03" cy="302.4" r="2.4"/><circle cx="398.05" cy="331.47" r="2.4"/><circle cx="399.07" cy="334.24" r="2.4"/><circle cx="400.09" cy="302.4" r="2.4"/><circle cx="401.11" cy="335.62" r="2.4"/><circle cx="402.13" cy="343.02" r="2.4"/><circle cx="403.15" cy="337" r="2.4"/><circle cx="404.16" cy="326.9" r="2.4"/><circle cx="405.18" cy="338.39" r="2.4"/><circle cx="406.2" cy="342.54" r="2.4"/><circle cx="407.22" cy="345.31" r="2.4"/><circle cx="408.24" cy="348.08" r="2.4"/><circle cx="409.26" cy="340.46" r="2.4"/><circle cx="410.28" cy="338.39" r="2.4"/><circle cx="411.3" cy="323.86" r="2.4"/><circle cx="412.32" cy="339.08" r="2.4"/><circle cx="413.34" cy="341.85" r="2.4"/><circle cx="414.36" cy="335.62" r="2.4"/><circle cx="415.37" cy="321.5" r="2.4"/><circle cx="416.39" cy="332.16" r="2.4"/><circle cx="417.41" cy="339.77" r="2.4"/><circle cx="418.43" cy="337" r="2.4"/><circle cx="419.45" cy="328.01" r="2.4"/><circle cx="420.47" cy="338.39" r="2.4"/><circle cx="421.49" cy="341.85" r="2.4"/><circle cx="422.51" cy="328.01" r="2.4"/><circle cx="423.53" cy="339.77" r="2.4"/><circle cx="424.54" cy="342.54" r="2.4"/><circle cx="425.56" cy="344.62" r="2.4"/><circle cx="426.58" cy="346.83" r="2.4"/><circle cx="427.6" cy="343.23" r="2.4"/><circle cx="428.62" cy="341.16" r="2.4"/><circle cx="429.64" cy="338.39" r="2.4"/><circle cx="430.66" cy="334.93" r="2.4"/><circle cx="431.68" cy="343.92" r="2.4"/><circle cx="432.7" cy="348.08" r="2.4"/><circle cx="433.72" cy="342.54" r="2.4"/><circle cx="434.74" cy="337" r="2.4"/><circle cx="435.75" cy="344.62" r="2.4"/><circle cx="436.77" cy="346" r="2.4"/><circle cx="437.79" cy="343.23" r="2.4"/><circle cx="438.81" cy="344.62" r="2.4"/><circle cx="439.83" cy="341.85" r="2.4"/><circle cx="440.85" cy="345.31" r="2.4"/><circle cx="441.87" cy="346.69" r="2.4"/><circle cx="442.89" cy="348.08" r="2.4"/><circle cx="443.91" cy="346" r="2.4"/><circle cx="444.92" cy="348.77" r="2.4"/><circle cx="445.94" cy="346.69" r="2.4"/><circle cx="446.96" cy="344.62" r="2.4"/><circle cx="447.98" cy="343.23" r="2.4"/><circle cx="449" cy="340.12" r="2.4"/><circle cx="450.02" cy="346.69" r="2.4"/><circle cx="451.04" cy="348.08" r="2.4"/><circle cx="452.06" cy="345.31" r="2.4"/><circle cx="453.08" cy="349.46" r="2.4"/><circle cx="454.1" cy="346" r="2.4"/><circle cx="455.12" cy="343.23" r="2.4"/><circle cx="456.13" cy="348.08" r="2.4"/><circle cx="457.15" cy="344.62" r="2.4"/><circle cx="458.17" cy="347.38" r="2.4"/><circle cx="459.19" cy="348.77" r="2.4"/><circle cx="460.21" cy="345.31" r="2.4"/><circle cx="461.23" cy="347.38" r="2.4"/><circle cx="462.25" cy="343.92" r="2.4"/><circle cx="463.27" cy="346.69" r="2.4"/><circle cx="464.29" cy="347.38" r="2.4"/><circle cx="465.3" cy="345.31" r="2.4"/><circle cx="466.32" cy="346" r="2.4"/><circle cx="467.34" cy="343.51" r="2.4"/><circle cx="468.36" cy="344.62" r="2.4"/><circle cx="469.38" cy="346.28" r="2.4"/></g>
<g class="tk" font-size="10">
<text x="353.8" y="229.08" text-anchor="end">0.020</text>
<text x="353.8" y="263.68" text-anchor="end">0.015</text>
<text x="353.8" y="298.28" text-anchor="end">0.010</text>
<text x="353.8" y="332.88" text-anchor="end">0.005</text>
<text x="368.5" y="372.78" text-anchor="middle">0</text>
<text x="419.45" y="372.78" text-anchor="middle">50</text>
<text x="470.4" y="372.78" text-anchor="middle">100</text>
</g>
<text class="cap" x="420.65" y="388.6" text-anchor="middle"><tspan class="pr" dy="-0.3">（</tspan><tspan class="lt" dx="1.8" dy="0.3">f</tspan><tspan class="pr" dx="2" dy="-0.3">）</tspan></text>
</g>
<g>
<rect x="25.7" y="398.1" width="83.3" height="116.3" fill="#e9ecf4"/>
<path d="M29 398.1V514.4M67.9 398.1V514.4M106.8 398.1V514.4M25.7 420.2H109M25.7 444H109M25.7 467.7H109M25.7 491.5H109" stroke="#ffffff" stroke-width="1.0" fill="none"/>
<polyline points="29,508.9 29.78,495.9 30.56,472.72 31.33,469.75 32.11,438.62 32.89,452.52 33.67,436.24 34.45,427.92 35.22,440.16 36,420.68 36.78,421.39 37.56,420.2 38.34,420.79 39.11,420.2 39.89,419.01 40.67,414.97 41.45,455.02 42.23,425.55 43,421.81 43.78,418.05 44.56,412.75 45.34,420.07 46.12,417.31 46.89,419.05 47.67,416.63 48.45,413.18 49.23,415.94 50.01,411.12 50.78,416.02 51.56,414.34 52.34,412.69 53.12,417.09 53.9,410.39 54.67,414.36 55.45,409.79 56.23,414 57.01,411.45 57.79,411.47 58.56,407.83 59.34,410.74 60.12,407.97 60.9,408.82 61.68,410.02 62.45,410.76 63.23,408.49 64.01,409.97 64.79,412.04 65.57,410.84 66.34,408.74 67.12,409.69 67.9,409.08 68.68,407 69.46,407.54 70.23,406.8 71.01,407.54 71.79,406.18 72.57,406.61 73.35,408.85 74.12,410.6 74.9,409.19 75.68,407.67 76.46,407.29 77.24,407.37 78.01,406.07 78.79,405.64 79.57,406.34 80.35,407.12 81.13,406.2 81.9,403.13 82.68,403.65 83.46,405.19 84.24,404.69 85.02,404.81 85.79,406.45 86.57,405.82 87.35,406.05 88.13,404.03 88.91,404.23 89.68,406.18 90.46,405.87 91.24,404.35 92.02,405.45 92.8,407.25 93.57,405.84 94.35,404.29 95.13,404.52 95.91,406.52 96.69,406.93 97.46,404.72 98.24,403.26 99.02,402.68 99.8,405.02 100.58,406.45 101.35,406.27 102.13,405.56 102.91,405.47 103.69,407.48 104.47,406.49 105.24,404.69 106.02,403.66" fill="none" stroke="#266cb8" stroke-width="1.7" stroke-linejoin="round" stroke-linecap="round"/>
<g fill="#266cb8"><circle cx="29" cy="508.9" r="1.95"/><circle cx="29.78" cy="495.9" r="1.95"/><circle cx="30.56" cy="472.72" r="1.95"/><circle cx="31.33" cy="469.75" r="1.95"/><circle cx="32.11" cy="438.62" r="1.95"/><circle cx="32.89" cy="452.52" r="1.95"/><circle cx="33.67" cy="436.24" r="1.95"/><circle cx="34.45" cy="427.92" r="1.95"/><circle cx="35.22" cy="440.16" r="1.95"/><circle cx="36" cy="420.68" r="1.95"/><circle cx="36.78" cy="421.39" r="1.95"/><circle cx="37.56" cy="420.2" r="1.95"/><circle cx="38.34" cy="420.79" r="1.95"/><circle cx="39.11" cy="420.2" r="1.95"/><circle cx="39.89" cy="419.01" r="1.95"/><circle cx="40.67" cy="414.97" r="1.95"/><circle cx="41.45" cy="455.02" r="1.95"/><circle cx="42.23" cy="425.55" r="1.95"/><circle cx="43" cy="421.81" r="1.95"/><circle cx="43.78" cy="418.05" r="1.95"/><circle cx="44.56" cy="412.75" r="1.95"/><circle cx="45.34" cy="420.07" r="1.95"/><circle cx="46.12" cy="417.31" r="1.95"/><circle cx="46.89" cy="419.05" r="1.95"/><circle cx="47.67" cy="416.63" r="1.95"/><circle cx="48.45" cy="413.18" r="1.95"/><circle cx="49.23" cy="415.94" r="1.95"/><circle cx="50.01" cy="411.12" r="1.95"/><circle cx="50.78" cy="416.02" r="1.95"/><circle cx="51.56" cy="414.34" r="1.95"/><circle cx="52.34" cy="412.69" r="1.95"/><circle cx="53.12" cy="417.09" r="1.95"/><circle cx="53.9" cy="410.39" r="1.95"/><circle cx="54.67" cy="414.36" r="1.95"/><circle cx="55.45" cy="409.79" r="1.95"/><circle cx="56.23" cy="414" r="1.95"/><circle cx="57.01" cy="411.45" r="1.95"/><circle cx="57.79" cy="411.47" r="1.95"/><circle cx="58.56" cy="407.83" r="1.95"/><circle cx="59.34" cy="410.74" r="1.95"/><circle cx="60.12" cy="407.97" r="1.95"/><circle cx="60.9" cy="408.82" r="1.95"/><circle cx="61.68" cy="410.02" r="1.95"/><circle cx="62.45" cy="410.76" r="1.95"/><circle cx="63.23" cy="408.49" r="1.95"/><circle cx="64.01" cy="409.97" r="1.95"/><circle cx="64.79" cy="412.04" r="1.95"/><circle cx="65.57" cy="410.84" r="1.95"/><circle cx="66.34" cy="408.74" r="1.95"/><circle cx="67.12" cy="409.69" r="1.95"/><circle cx="67.9" cy="409.08" r="1.95"/><circle cx="68.68" cy="407" r="1.95"/><circle cx="69.46" cy="407.54" r="1.95"/><circle cx="70.23" cy="406.8" r="1.95"/><circle cx="71.01" cy="407.54" r="1.95"/><circle cx="71.79" cy="406.18" r="1.95"/><circle cx="72.57" cy="406.61" r="1.95"/><circle cx="73.35" cy="408.85" r="1.95"/><circle cx="74.12" cy="410.6" r="1.95"/><circle cx="74.9" cy="409.19" r="1.95"/><circle cx="75.68" cy="407.67" r="1.95"/><circle cx="76.46" cy="407.29" r="1.95"/><circle cx="77.24" cy="407.37" r="1.95"/><circle cx="78.01" cy="406.07" r="1.95"/><circle cx="78.79" cy="405.64" r="1.95"/><circle cx="79.57" cy="406.34" r="1.95"/><circle cx="80.35" cy="407.12" r="1.95"/><circle cx="81.13" cy="406.2" r="1.95"/><circle cx="81.9" cy="403.13" r="1.95"/><circle cx="82.68" cy="403.65" r="1.95"/><circle cx="83.46" cy="405.19" r="1.95"/><circle cx="84.24" cy="404.69" r="1.95"/><circle cx="85.02" cy="404.81" r="1.95"/><circle cx="85.79" cy="406.45" r="1.95"/><circle cx="86.57" cy="405.82" r="1.95"/><circle cx="87.35" cy="406.05" r="1.95"/><circle cx="88.13" cy="404.03" r="1.95"/><circle cx="88.91" cy="404.23" r="1.95"/><circle cx="89.68" cy="406.18" r="1.95"/><circle cx="90.46" cy="405.87" r="1.95"/><circle cx="91.24" cy="404.35" r="1.95"/><circle cx="92.02" cy="405.45" r="1.95"/><circle cx="92.8" cy="407.25" r="1.95"/><circle cx="93.57" cy="405.84" r="1.95"/><circle cx="94.35" cy="404.29" r="1.95"/><circle cx="95.13" cy="404.52" r="1.95"/><circle cx="95.91" cy="406.52" r="1.95"/><circle cx="96.69" cy="406.93" r="1.95"/><circle cx="97.46" cy="404.72" r="1.95"/><circle cx="98.24" cy="403.26" r="1.95"/><circle cx="99.02" cy="402.68" r="1.95"/><circle cx="99.8" cy="405.02" r="1.95"/><circle cx="100.58" cy="406.45" r="1.95"/><circle cx="101.35" cy="406.27" r="1.95"/><circle cx="102.13" cy="405.56" r="1.95"/><circle cx="102.91" cy="405.47" r="1.95"/><circle cx="103.69" cy="407.48" r="1.95"/><circle cx="104.47" cy="406.49" r="1.95"/><circle cx="105.24" cy="404.69" r="1.95"/><circle cx="106.02" cy="403.66" r="1.95"/></g>
<g class="tk" font-size="7.6">
<text x="18.1" y="422.92" text-anchor="end">0.8</text>
<text x="18.1" y="446.72" text-anchor="end">0.6</text>
<text x="18.1" y="470.42" text-anchor="end">0.4</text>
<text x="18.1" y="494.22" text-anchor="end">0.2</text>
<text x="29" y="527.42" text-anchor="middle">0</text>
<text x="67.9" y="527.42" text-anchor="middle">50</text>
<text x="106.8" y="527.42" text-anchor="middle">100</text>
</g>
<text class="cap" x="68.6" y="542.6" text-anchor="middle"><tspan class="pr" dy="-0.3">（</tspan><tspan class="lt" dx="1.8" dy="0.3">g</tspan><tspan class="pr" dx="2" dy="-0.3">）</tspan></text>
</g>
<g>
<rect x="150.1" y="398" width="83.8" height="116.4" fill="#e9ecf4"/>
<path d="M153.4 398V514.4M192.5 398V514.4M231.6 398V514.4M150.1 421.3H233.9M150.1 447.6H233.9M150.1 473.9H233.9M150.1 500.2H233.9" stroke="#ffffff" stroke-width="1.0" fill="none"/>
<polyline points="153.4,508.88 154.18,491 154.96,478.77 155.75,467.32 156.53,449.31 157.31,456.28 158.09,438.39 158.87,430.11 159.66,441.02 160.44,419.59 161.22,412.1 162,413.41 162.78,417.36 163.57,415.38 164.35,421.3 165.13,416.04 165.91,432.21 166.69,414.46 167.48,423.93 168.26,427.88 169.04,415.38 169.82,421.69 170.6,417.36 171.39,421.3 172.17,425.51 172.95,408.81 173.73,413.41 174.51,409.47 175.3,412.1 176.08,407.49 176.86,410.78 177.64,420.64 178.42,408.15 179.21,404.99 179.99,408.15 180.77,404.86 181.55,406.84 182.33,404.21 183.12,402.89 183.9,405.52 184.68,404.86 185.46,406.84 186.24,405.52 187.03,407.49 187.81,409.6 188.59,404.81 189.37,404.32 190.15,405.93 190.94,406.43 191.72,406.94 192.5,406.15 193.28,403.89 194.06,406.41 194.85,407.13 195.63,406.55 196.41,402.04 197.19,405.4 197.97,406.33 198.76,405.21 199.54,403.37 200.32,406.47 201.1,405.95 201.88,405.51 202.67,403.43 203.45,405.1 204.23,408.61 205.01,405.74 205.79,405.37 206.58,407.68 207.36,406.39 208.14,407.38 208.92,404.96 209.7,405.02 210.49,406.63 211.27,406.16 212.05,404.14 212.83,404.99 213.61,405.13 214.4,406.97 215.18,404.64 215.96,406.77 216.74,407.66 217.52,404.85 218.31,404.83 219.09,403.98 219.87,402.59 220.65,403.34 221.43,406.39 222.22,407.08 223,408.79 223.78,407.12 224.56,404.81 225.34,404.71 226.13,403.42 226.91,402.5 227.69,401.44 228.47,402.89 229.25,404.21 230.04,404.99 230.82,405.26" fill="none" stroke="#266cb8" stroke-width="1.7" stroke-linejoin="round" stroke-linecap="round"/>
<g fill="#266cb8"><circle cx="153.4" cy="508.88" r="1.95"/><circle cx="154.18" cy="491" r="1.95"/><circle cx="154.96" cy="478.77" r="1.95"/><circle cx="155.75" cy="467.32" r="1.95"/><circle cx="156.53" cy="449.31" r="1.95"/><circle cx="157.31" cy="456.28" r="1.95"/><circle cx="158.09" cy="438.39" r="1.95"/><circle cx="158.87" cy="430.11" r="1.95"/><circle cx="159.66" cy="441.02" r="1.95"/><circle cx="160.44" cy="419.59" r="1.95"/><circle cx="161.22" cy="412.1" r="1.95"/><circle cx="162" cy="413.41" r="1.95"/><circle cx="162.78" cy="417.36" r="1.95"/><circle cx="163.57" cy="415.38" r="1.95"/><circle cx="164.35" cy="421.3" r="1.95"/><circle cx="165.13" cy="416.04" r="1.95"/><circle cx="165.91" cy="432.21" r="1.95"/><circle cx="166.69" cy="414.46" r="1.95"/><circle cx="167.48" cy="423.93" r="1.95"/><circle cx="168.26" cy="427.88" r="1.95"/><circle cx="169.04" cy="415.38" r="1.95"/><circle cx="169.82" cy="421.69" r="1.95"/><circle cx="170.6" cy="417.36" r="1.95"/><circle cx="171.39" cy="421.3" r="1.95"/><circle cx="172.17" cy="425.51" r="1.95"/><circle cx="172.95" cy="408.81" r="1.95"/><circle cx="173.73" cy="413.41" r="1.95"/><circle cx="174.51" cy="409.47" r="1.95"/><circle cx="175.3" cy="412.1" r="1.95"/><circle cx="176.08" cy="407.49" r="1.95"/><circle cx="176.86" cy="410.78" r="1.95"/><circle cx="177.64" cy="420.64" r="1.95"/><circle cx="178.42" cy="408.15" r="1.95"/><circle cx="179.21" cy="404.99" r="1.95"/><circle cx="179.99" cy="408.15" r="1.95"/><circle cx="180.77" cy="404.86" r="1.95"/><circle cx="181.55" cy="406.84" r="1.95"/><circle cx="182.33" cy="404.21" r="1.95"/><circle cx="183.12" cy="402.89" r="1.95"/><circle cx="183.9" cy="405.52" r="1.95"/><circle cx="184.68" cy="404.86" r="1.95"/><circle cx="185.46" cy="406.84" r="1.95"/><circle cx="186.24" cy="405.52" r="1.95"/><circle cx="187.03" cy="407.49" r="1.95"/><circle cx="187.81" cy="409.6" r="1.95"/><circle cx="188.59" cy="404.81" r="1.95"/><circle cx="189.37" cy="404.32" r="1.95"/><circle cx="190.15" cy="405.93" r="1.95"/><circle cx="190.94" cy="406.43" r="1.95"/><circle cx="191.72" cy="406.94" r="1.95"/><circle cx="192.5" cy="406.15" r="1.95"/><circle cx="193.28" cy="403.89" r="1.95"/><circle cx="194.06" cy="406.41" r="1.95"/><circle cx="194.85" cy="407.13" r="1.95"/><circle cx="195.63" cy="406.55" r="1.95"/><circle cx="196.41" cy="402.04" r="1.95"/><circle cx="197.19" cy="405.4" r="1.95"/><circle cx="197.97" cy="406.33" r="1.95"/><circle cx="198.76" cy="405.21" r="1.95"/><circle cx="199.54" cy="403.37" r="1.95"/><circle cx="200.32" cy="406.47" r="1.95"/><circle cx="201.1" cy="405.95" r="1.95"/><circle cx="201.88" cy="405.51" r="1.95"/><circle cx="202.67" cy="403.43" r="1.95"/><circle cx="203.45" cy="405.1" r="1.95"/><circle cx="204.23" cy="408.61" r="1.95"/><circle cx="205.01" cy="405.74" r="1.95"/><circle cx="205.79" cy="405.37" r="1.95"/><circle cx="206.58" cy="407.68" r="1.95"/><circle cx="207.36" cy="406.39" r="1.95"/><circle cx="208.14" cy="407.38" r="1.95"/><circle cx="208.92" cy="404.96" r="1.95"/><circle cx="209.7" cy="405.02" r="1.95"/><circle cx="210.49" cy="406.63" r="1.95"/><circle cx="211.27" cy="406.16" r="1.95"/><circle cx="212.05" cy="404.14" r="1.95"/><circle cx="212.83" cy="404.99" r="1.95"/><circle cx="213.61" cy="405.13" r="1.95"/><circle cx="214.4" cy="406.97" r="1.95"/><circle cx="215.18" cy="404.64" r="1.95"/><circle cx="215.96" cy="406.77" r="1.95"/><circle cx="216.74" cy="407.66" r="1.95"/><circle cx="217.52" cy="404.85" r="1.95"/><circle cx="218.31" cy="404.83" r="1.95"/><circle cx="219.09" cy="403.98" r="1.95"/><circle cx="219.87" cy="402.59" r="1.95"/><circle cx="220.65" cy="403.34" r="1.95"/><circle cx="221.43" cy="406.39" r="1.95"/><circle cx="222.22" cy="407.08" r="1.95"/><circle cx="223" cy="408.79" r="1.95"/><circle cx="223.78" cy="407.12" r="1.95"/><circle cx="224.56" cy="404.81" r="1.95"/><circle cx="225.34" cy="404.71" r="1.95"/><circle cx="226.13" cy="403.42" r="1.95"/><circle cx="226.91" cy="402.5" r="1.95"/><circle cx="227.69" cy="401.44" r="1.95"/><circle cx="228.47" cy="402.89" r="1.95"/><circle cx="229.25" cy="404.21" r="1.95"/><circle cx="230.04" cy="404.99" r="1.95"/><circle cx="230.82" cy="405.26" r="1.95"/></g>
<g class="tk" font-size="7.6">
<text x="142.5" y="424.02" text-anchor="end">0.8</text>
<text x="142.5" y="450.32" text-anchor="end">0.6</text>
<text x="142.5" y="476.62" text-anchor="end">0.4</text>
<text x="142.5" y="502.92" text-anchor="end">0.2</text>
<text x="153.4" y="527.42" text-anchor="middle">0</text>
<text x="192.5" y="527.42" text-anchor="middle">50</text>
<text x="231.6" y="527.42" text-anchor="middle">100</text>
</g>
<text class="cap" x="194.35" y="542.6" text-anchor="middle"><tspan class="pr" dy="-0.3">（</tspan><tspan class="lt" dx="1.8" dy="0.3">h</tspan><tspan class="pr" dx="2" dy="-0.3">）</tspan></text>
</g>
<g>
<rect x="266.2" y="398" width="83.6" height="116.4" fill="#e9ecf4"/>
<path d="M269.7 398V514.4M308.55 398V514.4M347.4 398V514.4M266.2 399.8H349.8M266.2 422.35H349.8M266.2 444.9H349.8M266.2 467.45H349.8M266.2 490H349.8M266.2 512.6H349.8" stroke="#ffffff" stroke-width="1.0" fill="none"/>
<polyline points="269.7,509.22 270.48,495.12 271.25,478.2 272.03,470.64 272.81,439.51 273.58,444.92 274.36,453.61 275.14,435.44 275.92,425.07 276.69,434.32 277.47,412.66 278.25,411.08 279.02,412.77 279.8,412.21 280.58,413.9 281.35,413.67 282.13,439.51 282.91,420.18 283.69,417.53 284.46,413.83 285.24,411.06 286.02,414.29 286.79,417.07 287.57,413.17 288.35,409.91 289.12,406 289.9,406.88 290.68,409.1 291.46,407.96 292.23,408.94 293.01,412.66 293.79,407.59 294.56,407.59 295.34,406.71 296.12,406.31 296.89,405.03 297.67,404.35 298.45,404.74 299.23,405.2 300,404.38 300.78,404.09 301.56,404.28 302.33,404.48 303.11,404.68 303.89,404.88 304.66,404.4 305.44,403.92 306.22,403.44 307,402.96 307.77,403.24 308.55,403.52 309.33,403.8 310.1,404.09 310.88,403.86 311.66,403.64 312.44,403.41 313.21,403.18 313.99,403.32 314.77,403.47 315.54,403.61 316.32,403.75 317.1,403.55 317.87,403.35 318.65,403.16 319.43,402.96 320.2,403.13 320.98,403.3 321.76,403.47 322.54,403.64 323.31,403.41 324.09,403.18 324.87,402.96 325.64,402.73 326.42,402.9 327.2,403.07 327.97,403.24 328.75,403.41 329.53,403.18 330.31,402.96 331.08,402.73 331.86,402.51 332.64,402.73 333.41,402.96 334.19,403.18 334.97,403.41 335.75,403.21 336.52,403.01 337.3,402.82 338.08,402.62 338.85,402.76 339.63,402.9 340.41,403.04 341.18,403.18 341.96,403.01 342.74,402.85 343.51,402.68 344.29,402.51 345.07,402.58 345.85,402.66 346.62,402.73" fill="none" stroke="#266cb8" stroke-width="1.7" stroke-linejoin="round" stroke-linecap="round"/>
<g fill="#266cb8"><circle cx="269.7" cy="509.22" r="1.95"/><circle cx="270.48" cy="495.12" r="1.95"/><circle cx="271.25" cy="478.2" r="1.95"/><circle cx="272.03" cy="470.64" r="1.95"/><circle cx="272.81" cy="439.51" r="1.95"/><circle cx="273.58" cy="444.92" r="1.95"/><circle cx="274.36" cy="453.61" r="1.95"/><circle cx="275.14" cy="435.44" r="1.95"/><circle cx="275.92" cy="425.07" r="1.95"/><circle cx="276.69" cy="434.32" r="1.95"/><circle cx="277.47" cy="412.66" r="1.95"/><circle cx="278.25" cy="411.08" r="1.95"/><circle cx="279.02" cy="412.77" r="1.95"/><circle cx="279.8" cy="412.21" r="1.95"/><circle cx="280.58" cy="413.9" r="1.95"/><circle cx="281.35" cy="413.67" r="1.95"/><circle cx="282.13" cy="439.51" r="1.95"/><circle cx="282.91" cy="420.18" r="1.95"/><circle cx="283.69" cy="417.53" r="1.95"/><circle cx="284.46" cy="413.83" r="1.95"/><circle cx="285.24" cy="411.06" r="1.95"/><circle cx="286.02" cy="414.29" r="1.95"/><circle cx="286.79" cy="417.07" r="1.95"/><circle cx="287.57" cy="413.17" r="1.95"/><circle cx="288.35" cy="409.91" r="1.95"/><circle cx="289.12" cy="406" r="1.95"/><circle cx="289.9" cy="406.88" r="1.95"/><circle cx="290.68" cy="409.1" r="1.95"/><circle cx="291.46" cy="407.96" r="1.95"/><circle cx="292.23" cy="408.94" r="1.95"/><circle cx="293.01" cy="412.66" r="1.95"/><circle cx="293.79" cy="407.59" r="1.95"/><circle cx="294.56" cy="407.59" r="1.95"/><circle cx="295.34" cy="406.71" r="1.95"/><circle cx="296.12" cy="406.31" r="1.95"/><circle cx="296.89" cy="405.03" r="1.95"/><circle cx="297.67" cy="404.35" r="1.95"/><circle cx="298.45" cy="404.74" r="1.95"/><circle cx="299.23" cy="405.2" r="1.95"/><circle cx="300" cy="404.38" r="1.95"/><circle cx="300.78" cy="404.09" r="1.95"/><circle cx="301.56" cy="404.28" r="1.95"/><circle cx="302.33" cy="404.48" r="1.95"/><circle cx="303.11" cy="404.68" r="1.95"/><circle cx="303.89" cy="404.88" r="1.95"/><circle cx="304.66" cy="404.4" r="1.95"/><circle cx="305.44" cy="403.92" r="1.95"/><circle cx="306.22" cy="403.44" r="1.95"/><circle cx="307" cy="402.96" r="1.95"/><circle cx="307.77" cy="403.24" r="1.95"/><circle cx="308.55" cy="403.52" r="1.95"/><circle cx="309.33" cy="403.8" r="1.95"/><circle cx="310.1" cy="404.09" r="1.95"/><circle cx="310.88" cy="403.86" r="1.95"/><circle cx="311.66" cy="403.64" r="1.95"/><circle cx="312.44" cy="403.41" r="1.95"/><circle cx="313.21" cy="403.18" r="1.95"/><circle cx="313.99" cy="403.32" r="1.95"/><circle cx="314.77" cy="403.47" r="1.95"/><circle cx="315.54" cy="403.61" r="1.95"/><circle cx="316.32" cy="403.75" r="1.95"/><circle cx="317.1" cy="403.55" r="1.95"/><circle cx="317.87" cy="403.35" r="1.95"/><circle cx="318.65" cy="403.16" r="1.95"/><circle cx="319.43" cy="402.96" r="1.95"/><circle cx="320.2" cy="403.13" r="1.95"/><circle cx="320.98" cy="403.3" r="1.95"/><circle cx="321.76" cy="403.47" r="1.95"/><circle cx="322.54" cy="403.64" r="1.95"/><circle cx="323.31" cy="403.41" r="1.95"/><circle cx="324.09" cy="403.18" r="1.95"/><circle cx="324.87" cy="402.96" r="1.95"/><circle cx="325.64" cy="402.73" r="1.95"/><circle cx="326.42" cy="402.9" r="1.95"/><circle cx="327.2" cy="403.07" r="1.95"/><circle cx="327.97" cy="403.24" r="1.95"/><circle cx="328.75" cy="403.41" r="1.95"/><circle cx="329.53" cy="403.18" r="1.95"/><circle cx="330.31" cy="402.96" r="1.95"/><circle cx="331.08" cy="402.73" r="1.95"/><circle cx="331.86" cy="402.51" r="1.95"/><circle cx="332.64" cy="402.73" r="1.95"/><circle cx="333.41" cy="402.96" r="1.95"/><circle cx="334.19" cy="403.18" r="1.95"/><circle cx="334.97" cy="403.41" r="1.95"/><circle cx="335.75" cy="403.21" r="1.95"/><circle cx="336.52" cy="403.01" r="1.95"/><circle cx="337.3" cy="402.82" r="1.95"/><circle cx="338.08" cy="402.62" r="1.95"/><circle cx="338.85" cy="402.76" r="1.95"/><circle cx="339.63" cy="402.9" r="1.95"/><circle cx="340.41" cy="403.04" r="1.95"/><circle cx="341.18" cy="403.18" r="1.95"/><circle cx="341.96" cy="403.01" r="1.95"/><circle cx="342.74" cy="402.85" r="1.95"/><circle cx="343.51" cy="402.68" r="1.95"/><circle cx="344.29" cy="402.51" r="1.95"/><circle cx="345.07" cy="402.58" r="1.95"/><circle cx="345.85" cy="402.66" r="1.95"/><circle cx="346.62" cy="402.73" r="1.95"/></g>
<g class="tk" font-size="7.6">
<text x="258.6" y="402.52" text-anchor="end">1.0</text>
<text x="258.6" y="425.07" text-anchor="end">0.8</text>
<text x="258.6" y="447.62" text-anchor="end">0.6</text>
<text x="258.6" y="470.17" text-anchor="end">0.4</text>
<text x="258.6" y="492.72" text-anchor="end">0.2</text>
<text x="258.6" y="515.32" text-anchor="end">0.0</text>
<text x="269.7" y="527.42" text-anchor="middle">0</text>
<text x="308.55" y="527.42" text-anchor="middle">50</text>
<text x="347.4" y="527.42" text-anchor="middle">100</text>
</g>
<text class="cap" x="306.95" y="542.6" text-anchor="middle"><tspan class="pr" dy="-0.3">（</tspan><tspan class="lt" dx="1.8" dy="0.3">i</tspan><tspan class="pr" dx="2" dy="-0.3">）</tspan></text>
</g>
<g>
<rect x="390.4" y="398" width="83.4" height="116.4" fill="#e9ecf4"/>
<path d="M393.9 398V514.4M432.8 398V514.4M471.7 398V514.4M390.4 409.8H473.8M390.4 434.9H473.8M390.4 460H473.8M390.4 485.1H473.8M390.4 510.2H473.8" stroke="#ffffff" stroke-width="1.0" fill="none"/>
<polyline points="393.9,509.32 394.68,504.93 395.46,494.76 396.23,495.27 397.01,465.02 397.79,472.55 398.57,477.19 399.35,456.74 400.12,448.96 400.9,453.35 401.68,436.41 402.46,434.9 403.24,432.39 404.01,426.99 404.79,442.18 405.57,434.9 406.35,432.01 407.13,454.48 407.9,441.18 408.68,436.41 409.46,431.22 410.24,423.44 411.02,425.91 411.79,427.12 412.57,420.75 413.35,420.19 414.13,417.37 414.91,420.7 415.68,415.6 416.46,419.69 417.24,420.56 418.02,414.77 418.8,413.56 419.57,415.11 420.35,412.85 421.13,410.41 421.91,411.17 422.69,407.64 423.46,409.96 424.24,409.84 425.02,409.62 425.8,407.6 426.58,409.77 427.35,409.62 428.13,409.51 428.91,409.12 429.69,406.83 430.47,408.18 431.24,407.17 432.02,408.27 432.8,405.08 433.58,406.28 434.36,406.7 435.13,406.28 435.91,405.53 436.69,405.4 437.47,406.08 438.25,405.93 439.02,404.35 439.8,405.11 440.58,405.41 441.36,405.6 442.14,405.78 442.91,405.47 443.69,405.16 444.47,404.84 445.25,404.53 446.03,404.4 446.8,404.28 447.58,404.15 448.36,404.03 449.14,404.12 449.92,404.22 450.69,404.31 451.47,404.4 452.25,404.18 453.03,403.96 453.81,403.74 454.58,403.53 455.36,403.37 456.14,403.21 456.92,403.05 457.7,402.9 458.47,403.15 459.25,403.4 460.03,403.65 460.81,403.9 461.59,403.59 462.36,403.27 463.14,402.96 463.92,402.65 464.7,402.8 465.48,402.96 466.25,403.12 467.03,403.27 467.81,402.94 468.59,402.6 469.37,402.27 470.14,402.46 470.92,402.65" fill="none" stroke="#266cb8" stroke-width="1.7" stroke-linejoin="round" stroke-linecap="round"/>
<g fill="#266cb8"><circle cx="393.9" cy="509.32" r="1.95"/><circle cx="394.68" cy="504.93" r="1.95"/><circle cx="395.46" cy="494.76" r="1.95"/><circle cx="396.23" cy="495.27" r="1.95"/><circle cx="397.01" cy="465.02" r="1.95"/><circle cx="397.79" cy="472.55" r="1.95"/><circle cx="398.57" cy="477.19" r="1.95"/><circle cx="399.35" cy="456.74" r="1.95"/><circle cx="400.12" cy="448.96" r="1.95"/><circle cx="400.9" cy="453.35" r="1.95"/><circle cx="401.68" cy="436.41" r="1.95"/><circle cx="402.46" cy="434.9" r="1.95"/><circle cx="403.24" cy="432.39" r="1.95"/><circle cx="404.01" cy="426.99" r="1.95"/><circle cx="404.79" cy="442.18" r="1.95"/><circle cx="405.57" cy="434.9" r="1.95"/><circle cx="406.35" cy="432.01" r="1.95"/><circle cx="407.13" cy="454.48" r="1.95"/><circle cx="407.9" cy="441.18" r="1.95"/><circle cx="408.68" cy="436.41" r="1.95"/><circle cx="409.46" cy="431.22" r="1.95"/><circle cx="410.24" cy="423.44" r="1.95"/><circle cx="411.02" cy="425.91" r="1.95"/><circle cx="411.79" cy="427.12" r="1.95"/><circle cx="412.57" cy="420.75" r="1.95"/><circle cx="413.35" cy="420.19" r="1.95"/><circle cx="414.13" cy="417.37" r="1.95"/><circle cx="414.91" cy="420.7" r="1.95"/><circle cx="415.68" cy="415.6" r="1.95"/><circle cx="416.46" cy="419.69" r="1.95"/><circle cx="417.24" cy="420.56" r="1.95"/><circle cx="418.02" cy="414.77" r="1.95"/><circle cx="418.8" cy="413.56" r="1.95"/><circle cx="419.57" cy="415.11" r="1.95"/><circle cx="420.35" cy="412.85" r="1.95"/><circle cx="421.13" cy="410.41" r="1.95"/><circle cx="421.91" cy="411.17" r="1.95"/><circle cx="422.69" cy="407.64" r="1.95"/><circle cx="423.46" cy="409.96" r="1.95"/><circle cx="424.24" cy="409.84" r="1.95"/><circle cx="425.02" cy="409.62" r="1.95"/><circle cx="425.8" cy="407.6" r="1.95"/><circle cx="426.58" cy="409.77" r="1.95"/><circle cx="427.35" cy="409.62" r="1.95"/><circle cx="428.13" cy="409.51" r="1.95"/><circle cx="428.91" cy="409.12" r="1.95"/><circle cx="429.69" cy="406.83" r="1.95"/><circle cx="430.47" cy="408.18" r="1.95"/><circle cx="431.24" cy="407.17" r="1.95"/><circle cx="432.02" cy="408.27" r="1.95"/><circle cx="432.8" cy="405.08" r="1.95"/><circle cx="433.58" cy="406.28" r="1.95"/><circle cx="434.36" cy="406.7" r="1.95"/><circle cx="435.13" cy="406.28" r="1.95"/><circle cx="435.91" cy="405.53" r="1.95"/><circle cx="436.69" cy="405.4" r="1.95"/><circle cx="437.47" cy="406.08" r="1.95"/><circle cx="438.25" cy="405.93" r="1.95"/><circle cx="439.02" cy="404.35" r="1.95"/><circle cx="439.8" cy="405.11" r="1.95"/><circle cx="440.58" cy="405.41" r="1.95"/><circle cx="441.36" cy="405.6" r="1.95"/><circle cx="442.14" cy="405.78" r="1.95"/><circle cx="442.91" cy="405.47" r="1.95"/><circle cx="443.69" cy="405.16" r="1.95"/><circle cx="444.47" cy="404.84" r="1.95"/><circle cx="445.25" cy="404.53" r="1.95"/><circle cx="446.03" cy="404.4" r="1.95"/><circle cx="446.8" cy="404.28" r="1.95"/><circle cx="447.58" cy="404.15" r="1.95"/><circle cx="448.36" cy="404.03" r="1.95"/><circle cx="449.14" cy="404.12" r="1.95"/><circle cx="449.92" cy="404.22" r="1.95"/><circle cx="450.69" cy="404.31" r="1.95"/><circle cx="451.47" cy="404.4" r="1.95"/><circle cx="452.25" cy="404.18" r="1.95"/><circle cx="453.03" cy="403.96" r="1.95"/><circle cx="453.81" cy="403.74" r="1.95"/><circle cx="454.58" cy="403.53" r="1.95"/><circle cx="455.36" cy="403.37" r="1.95"/><circle cx="456.14" cy="403.21" r="1.95"/><circle cx="456.92" cy="403.05" r="1.95"/><circle cx="457.7" cy="402.9" r="1.95"/><circle cx="458.47" cy="403.15" r="1.95"/><circle cx="459.25" cy="403.4" r="1.95"/><circle cx="460.03" cy="403.65" r="1.95"/><circle cx="460.81" cy="403.9" r="1.95"/><circle cx="461.59" cy="403.59" r="1.95"/><circle cx="462.36" cy="403.27" r="1.95"/><circle cx="463.14" cy="402.96" r="1.95"/><circle cx="463.92" cy="402.65" r="1.95"/><circle cx="464.7" cy="402.8" r="1.95"/><circle cx="465.48" cy="402.96" r="1.95"/><circle cx="466.25" cy="403.12" r="1.95"/><circle cx="467.03" cy="403.27" r="1.95"/><circle cx="467.81" cy="402.94" r="1.95"/><circle cx="468.59" cy="402.6" r="1.95"/><circle cx="469.37" cy="402.27" r="1.95"/><circle cx="470.14" cy="402.46" r="1.95"/><circle cx="470.92" cy="402.65" r="1.95"/></g>
<g class="tk" font-size="7.6">
<text x="382.8" y="412.52" text-anchor="end">0.8</text>
<text x="382.8" y="437.62" text-anchor="end">0.6</text>
<text x="382.8" y="462.72" text-anchor="end">0.4</text>
<text x="382.8" y="487.82" text-anchor="end">0.2</text>
<text x="382.8" y="512.92" text-anchor="end">0.0</text>
<text x="393.9" y="527.42" text-anchor="middle">0</text>
<text x="432.8" y="527.42" text-anchor="middle">50</text>
<text x="471.7" y="527.42" text-anchor="middle">100</text>
</g>
<text class="cap" x="436.05" y="542.6" text-anchor="middle"><tspan class="pr" dy="-0.3">（</tspan><tspan class="lt" dx="1.8" dy="0.3">j</tspan><tspan class="pr" dx="2" dy="-0.3">）</tspan></text>
</g>
</svg>
</body>
</html>
